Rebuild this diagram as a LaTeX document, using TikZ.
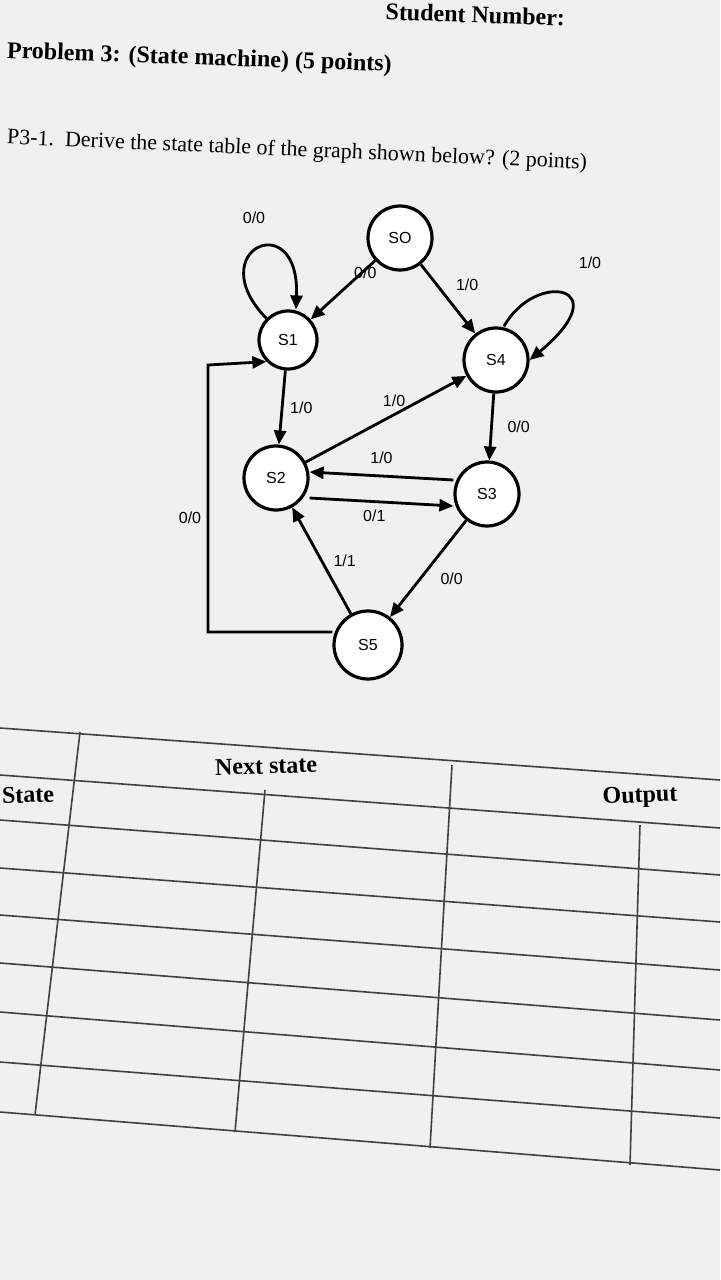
\documentclass[tikz,border=0pt]{standalone}
\usepackage{fontspec}
\setmainfont{Liberation Serif}
\newfontfamily\lsans{Liberation Sans}
\usetikzlibrary{arrows.meta}
\begin{document}
\begin{tikzpicture}[x=0.5pt,y=-0.5pt,
  st/.style={circle,draw,line width=1.6pt,minimum size=32pt,inner sep=0pt,font=\lsans\fontsize{8}{9}\selectfont,fill=white},
  tr/.style={line width=1.4pt,-{Triangle[length=7pt,width=6pt]}},
  lb/.style={font=\lsans\fontsize{8}{9}\selectfont},
  tl/.style={line width=0.8pt,black!75},
  hd/.style={font=\bfseries\fontsize{12}{14}\selectfont}]
\fill[black!6] (0,0) rectangle (720,1280);
\useasboundingbox (0,0) rectangle (720,1280);
% header texts
\node[hd,anchor=east,rotate=-2] (t0) at (572,18) {Student Number:};
\node[hd,anchor=west,rotate=-2] (t1) at (0,52) {Problem 3: (State machine) (5 points)};
\node[font=\fontsize{11}{13}\selectfont,anchor=west,rotate=-2.5] (t2) at (0,138) {P3-1.\ \ Derive the state table of the graph shown below? (2 points)};
% states
\node[st] (s0) at (400,238) {SO};
\node[st,minimum size=29pt] (s1) at (288,340) {S1};
\node[st] (s4) at (496,360) {S4};
\node[st] (s2) at (276,478) {S2};
\node[st] (s3) at (487,494) {S3};
\node[st,minimum size=34pt] (s5) at (368,645) {S5};
\coordinate (c1) at (208,632);
\coordinate (c2) at (208,365);
% transitions
\draw[tr] (s0) -- (s1) node[lb,pos=0.45,above right] {0/0};
\draw[tr] (s0) -- (s4) node[lb,pos=0.5,above right] {1/0};
\draw[tr] (s1.north west) .. controls (200,250) and (300,205) .. ([xshift=4pt]s1.north);
\node[lb] (l11) at (254,218) {0/0};
\draw[tr] ([xshift=4pt]s4.north) .. controls (535,270) and (620,285) .. (s4.east);
\node[lb] (l44) at (590,263) {1/0};
\draw[tr] (s1) -- (s2) node[lb,pos=0.5,right] {1/0};
\draw[tr] (s2) -- (s4) node[lb,pos=0.55,above] {1/0};
\draw[tr] ([yshift=7]s3.west) -- ([yshift=3]s2.east) node[lb,pos=0.5,above=2pt] {1/0};
\draw[tr] ([yshift=-10]s2.east) -- ([yshift=-6]s3.west) node[lb,pos=0.45,below] {0/1};
\draw[tr] (s4) -- (s3) node[lb,pos=0.5,right=4pt] {0/0};
\draw[tr] (s3) -- (s5) node[lb,pos=0.6,right=6pt] {0/0};
\draw[tr] (s5) -- (s2) node[lb,pos=0.5,right=2pt] {1/1};
\draw[tr] (s5.west |- c1) -- (c1) -- (c2) -- (s1.south west);
\node[lb] (l51) at (190,518) {0/0};
% table
\foreach \a/\b in {728/780,775/828,820/875,868/922,915/970,963/1020,1012/1070,1062/1118,1112/1170}
  \draw[tl] (0,\a) -- (720,\b);
\draw[tl] (80,732) -- (35,1115);
\draw[tl] (265,790) -- (235,1132);
\draw[tl] (452,765) -- (430,1148);
\draw[tl] (640,825) -- (630,1165);
\node[hd,rotate=2] (h1) at (266,766) {Next state};
\node[hd,rotate=2] (h2) at (28,795) {State};
\node[hd,rotate=2] (h3) at (640,797) {Output};
\end{tikzpicture}
\end{document}
